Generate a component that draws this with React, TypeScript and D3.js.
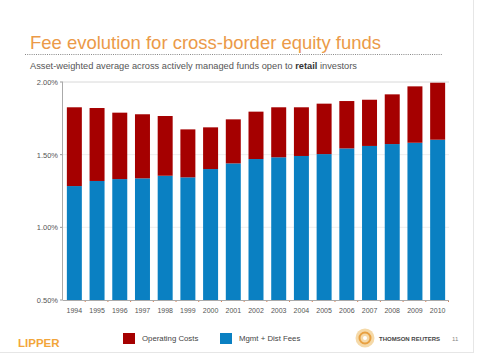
import React from "react";
import * as d3 from "d3";

const years = ["1994","1995","1996","1997","1998","1999","2000","2001","2002","2003","2004","2005","2006","2007","2008","2009","2010"];
const mgmtFees = [1.284,1.319,1.332,1.337,1.355,1.344,1.401,1.440,1.470,1.482,1.491,1.504,1.543,1.560,1.573,1.582,1.603];
const totalFees = [1.826,1.821,1.789,1.778,1.766,1.674,1.688,1.743,1.796,1.826,1.826,1.851,1.869,1.878,1.915,1.970,1.995];
const operatingCosts = totalFees.map((t, i) => t - mgmtFees[i]);
const yTicks = [0.5, 1.0, 1.5, 2.0];

const RED = "#A50000";
const BLUE = "#0A80C2";

export default function App() {
  const W = 480, H = 360;
  const left = 63, right = 449, top = 82, bottom = 300;
  const x = d3.scaleBand<string>().domain(years).range([left, right]).paddingInner(0.34).paddingOuter(0.17);
  const y = d3.scaleLinear().domain([0.5, 2.0]).range([bottom, top]);
  const fmt = (v: number) => v.toFixed(2) + "%";
  const font = "Liberation Sans, Arial, sans-serif";

  return (
    <svg width={W} height={H} style={{ position: "absolute", left: 0, top: 0 }} fontFamily={font}>
      <rect width={W} height={H} fill="#fff" />
      <line x1={473.5} y1={0} x2={473.5} y2={352} stroke="#e6e6e6" />
      <line x1={0} y1={352.5} x2={474} y2={352.5} stroke="#e6e6e6" />
      <text x={30} y={49} fontSize={18.6} fill="#EB9A48" textLength={351} lengthAdjust="spacingAndGlyphs">Fee evolution for cross-border equity funds</text>
      <line x1={25} y1={54.5} x2={442} y2={54.5} stroke="#888" strokeDasharray="1,1.2" />
      <text x={30} y={69} fontSize={9.3} fill="#555" textLength={327} lengthAdjust="spacingAndGlyphs">
        Asset-weighted average across actively managed funds open to <tspan fontWeight="bold" fill="#333">retail</tspan> investors
      </text>
      {yTicks.map((t) => (
        <g key={t}>
          {t > 0.5 && <line x1={left} x2={right} y1={y(t)} y2={y(t)} stroke={t === 2 ? "#d8d8d8" : "#eeeeee"} />}
          <line x1={left - 3} x2={left} y1={y(t)} y2={y(t)} stroke="#999" />
          <text x={left - 5} y={y(t) + 3} fontSize={7.5} fill="#555" textAnchor="end">{fmt(t)}</text>
        </g>
      ))}
      {years.map((yr, i) => (
        <g key={yr}>
          <rect x={x(yr)} width={x.bandwidth()} y={y(mgmtFees[i])} height={y(0.5) - y(mgmtFees[i])} fill={BLUE} />
          <rect x={x(yr)} width={x.bandwidth()} y={y(totalFees[i])} height={y(mgmtFees[i]) - y(totalFees[i])} fill={RED} />
          <text x={(x(yr) as number) + x.bandwidth() / 2} y={313} fontSize={7} fill="#555" textAnchor="middle">{yr}</text>
        </g>
      ))}
      {years.map((yr, i) => {
        const bx = left + (i + 1) * x.step() - 0.5;
        return <line key={"t" + yr} x1={bx} x2={bx} y1={bottom} y2={bottom + 2} stroke="#e08050" />;
      })}
      <line x1={left} x2={right} y1={bottom + 0.5} y2={bottom + 0.5} stroke="#aaa" />
      <line x1={left - 0.5} x2={left - 0.5} y1={top} y2={bottom} stroke="#aaa" />
      <text x={18} y={347} fontSize={11.5} fontWeight="bold" fill="#F2A53A">LIPPER</text>
      <rect x={123} y={333} width={12} height={11} fill={RED} />
      <text x={142} y={341} fontSize={7.8} fill="#444">Operating Costs</text>
      <rect x={220} y={333} width={12} height={11} fill={BLUE} />
      <text x={239} y={341} fontSize={7.8} fill="#444">Mgmt + Dist Fees</text>
      <circle cx={365} cy={338} r={9.5} fill="#F5D9A8" />
      <circle cx={365} cy={338} r={5.5} fill="none" stroke="#E8A040" strokeWidth={2} />
      <circle cx={365} cy={338} r={2} fill="#fff" />
      <text x={379} y={341} fontSize={6} fill="#444" fontWeight="bold">THOMSON REUTERS</text>
      <text x={452} y={341} fontSize={6} fill="#888">11</text>
    </svg>
  );
}
